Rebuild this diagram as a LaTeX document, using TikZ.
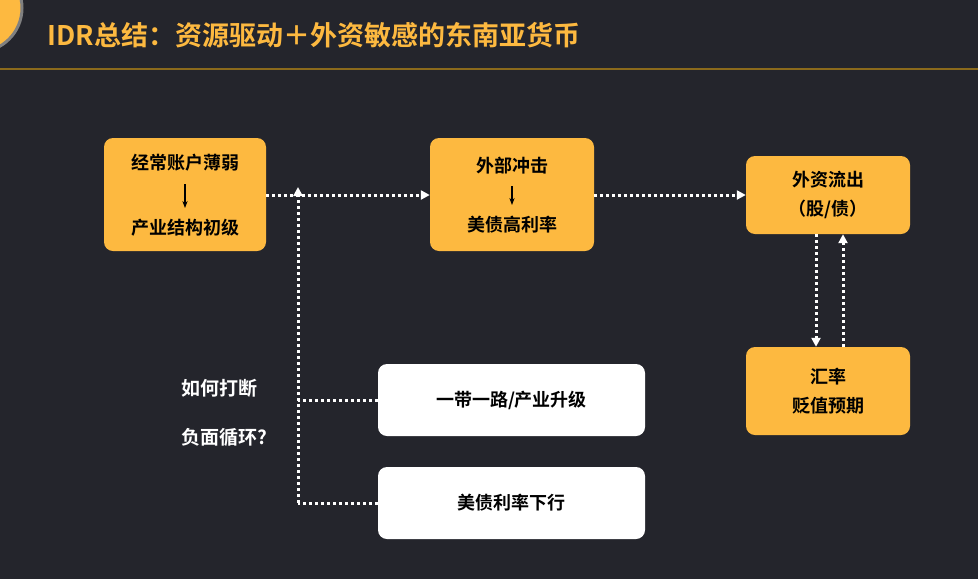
\documentclass[tikz,border=0pt]{standalone}
\usepackage{fontspec}
\setmainfont{Noto Sans CJK SC}[BoldFont={* Bold}]
\usetikzlibrary{positioning,arrows.meta}
\definecolor{bgdark}{HTML}{24252C}
\definecolor{sorange}{HTML}{FDB940}
\definecolor{sgold}{HTML}{8B6A1C}
\begin{document}
\begin{tikzpicture}[x=1pt,y=-1pt,
  bf/.style={font=\bfseries\fontsize{18}{29}\selectfont},
  obox/.style={bf,fill=sorange,rounded corners=9pt,align=center,text=black},
  wbox/.style={bf,fill=white,rounded corners=9pt,minimum width=267pt,minimum height=72pt,text=black},
  dots/.style={white,line width=3pt,dash pattern=on 3pt off 3pt},
  tip/.style={-{Triangle[length=9pt,width=9pt]}}]
  \fill[bgdark] (0,0) rectangle (978,579);
  \useasboundingbox (0,0) rectangle (978,579);
  \filldraw[sorange,draw=gray,line width=3pt] (-22,8) circle (44);
  \node[anchor=west,text=sorange,font=\bfseries\fontsize{27}{32}\selectfont] (title) at (44,35) {IDR总结：资源驱动＋外资敏感的东南亚货币};
  \draw[sgold,line width=1.2pt] (0,69) -- (978,69);
  % orange boxes
  \node[obox,minimum width=162pt,minimum height=113pt] (weak) at (185,194.5) {};
  \node[bf] (weakt) at (185,163) {经常账户薄弱};
  \node[bf] (weakb) at (185,228) {产业结构初级};
  \draw[-{Stealth[length=7pt]},line width=1.8pt] (185,184) -- (185,208);
  \node[obox,minimum width=164pt,minimum height=113pt] (shock) at (512,194.5) {};
  \node[bf] (shockt) at (512,166) {外部冲击};
  \node[bf] (shockb) at (512,225) {美债高利率};
  \draw[-{Stealth[length=7pt]},line width=1.8pt] (512,186) -- (512,205);
  \node[obox,minimum width=164pt,minimum height=78pt] (outflow) at (828,195) {外资流出\\（股/债）};
  \node[obox,minimum width=164pt,minimum height=88pt] (fx) at (828,391) {汇率\\贬值预期};
  % white boxes
  \node[wbox] (belt) at (511.5,400) {一带一路/产业升级};
  \node[wbox] (rate) at (511.5,503) {美债利率下行};
  \node[anchor=west,text=white,font=\bfseries\fontsize{19}{22}\selectfont] (q1) at (178,388) {如何打断};
  \node[anchor=west,text=white,font=\bfseries\fontsize{19}{22}\selectfont] (q2) at (178,437) {负面循环?};
  % connectors
  \coordinate (join) at (298,195);
  \coordinate (base) at (298,503);
  \draw[dots,tip] (weak.east |- join) -- (shock.west |- join);
  \draw[dots,tip] (shock.east |- join) -- (outflow.west |- join);
  \draw[dots,tip] ([xshift=-12pt]outflow.south) -- ([xshift=-12pt]fx.north);
  \draw[dots,tip] ([xshift=15pt]fx.north) -- ([xshift=15pt]outflow.south);
  \draw[dots] (rate.west) -- (base);
  \draw[dots] (belt.west) -- (belt.west -| join);
  \draw[dots,tip] (base) -- ([yshift=8pt]join);
\end{tikzpicture}
\end{document}
